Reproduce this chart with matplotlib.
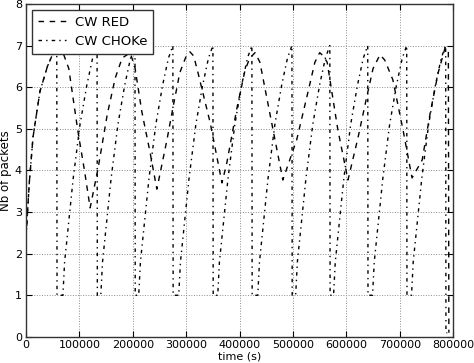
import matplotlib.pyplot as plt

# CW RED (time in s, window in packets)
red_t = [0, 6000, 13000, 26000, 40000, 50000, 60000, 70000,
         80000, 97000, 110000, 120000,
         135000, 152000, 167000, 180000, 195000,
         204000, 217000, 232000, 245000,
         264000, 275000, 288000, 300000, 307000, 314000,
         322000, 345000, 367000,
         376000, 395000, 410000, 419000, 429000,
         438000, 460000, 481000,
         507000, 526000, 541000, 550000, 557000,
         564000, 584000, 603000,
         622000, 637000, 650000, 663000, 672000,
         687000, 706000, 723000,
         742000, 757000, 772000, 785000, 791000, 792000]
red_v = [2.4, 3.7, 4.8, 5.9, 6.5, 6.8, 6.9, 6.8,
         6.45, 4.95, 3.95, 3.1,
         4.06, 5.34, 6.22, 6.7, 6.83,
         6.47, 5.4, 4.45, 3.55,
         4.74, 5.5, 6.35, 6.75, 6.85, 6.75,
         6.35, 5.14, 3.7,
         4.18, 5.5, 6.4, 6.7, 6.83,
         6.6, 5.15, 3.77,
         4.74, 5.77, 6.6, 6.83, 6.75,
         6.6, 4.98, 3.77,
         4.8, 5.7, 6.45, 6.78, 6.65,
         6.18, 4.98, 3.82,
         4.25, 5.38, 6.35, 6.95, 6.9, 0.1]

# CW CHOKe
choke_t = [0, 6000, 13000, 26000, 40000, 50000, 57500, 58000, 69000,
           72200, 78600, 88200, 101000, 113800, 124700, 133000, 133500, 140000,
           143200, 149600, 159200, 172000, 184800, 195700, 204000, 204500, 211000,
           214200, 220600, 230200, 243000, 255800, 266700, 275000, 275500, 286000,
           289200, 295600, 305200, 318000, 330800, 341700, 350000, 350500, 359000,
           362200, 368600, 378200, 391000, 403800, 414700, 423000, 423500, 434000,
           437200, 443600, 453200, 466000, 478800, 489700, 498000, 498500, 505000,
           508200, 514600, 524200, 537000, 549800, 560700, 569000, 569500, 576000,
           579200, 585600, 595200, 608000, 620800, 631700, 640000, 640500, 649000,
           652200, 658600, 668200, 681000, 693800, 704700, 713000, 713500, 722000,
           725200, 731600, 741200, 754000, 766800, 777700, 786000, 786500, 789000]
choke_v = [2.4, 3.7, 4.8, 5.9, 6.5, 6.8, 7.0, 1.0, 1.0,
           1.8, 2.6, 3.8, 5.1, 6.05, 6.7, 7.0, 1.0, 1.0,
           1.8, 2.6, 3.8, 5.1, 6.05, 6.7, 7.0, 1.0, 1.0,
           1.8, 2.6, 3.8, 5.1, 6.05, 6.7, 7.0, 1.0, 1.0,
           1.8, 2.6, 3.8, 5.1, 6.05, 6.7, 7.0, 1.0, 1.0,
           1.8, 2.6, 3.8, 5.1, 6.05, 6.7, 7.0, 1.0, 1.0,
           1.8, 2.6, 3.8, 5.1, 6.05, 6.7, 7.0, 1.0, 1.0,
           1.8, 2.6, 3.8, 5.1, 6.05, 6.7, 7.0, 1.0, 1.0,
           1.8, 2.6, 3.8, 5.1, 6.05, 6.7, 7.0, 1.0, 1.0,
           1.8, 2.6, 3.8, 5.1, 6.05, 6.7, 7.0, 1.0, 1.0,
           1.8, 2.6, 3.8, 5.1, 6.05, 6.7, 7.0, 0.1, 0.1]

x_ticks = [0, 100000, 200000, 300000, 400000, 500000, 600000, 700000, 800000]
y_ticks = [0, 1, 2, 3, 4, 5, 6, 7, 8]

fig = plt.figure(figsize=(4.74, 3.63), dpi=100)
ax = fig.add_axes([0.055, 0.072, 0.901, 0.917])

ax.plot(red_t, red_v, color='k', lw=1, dashes=(4, 4), label='CW RED')
ax.plot(choke_t, choke_v, color='k', lw=1, dashes=(2.5, 3, 1, 3), label='CW CHOKe')

ax.set_xlim(0, 800000)
ax.set_ylim(0, 8)
ax.set_xticks(x_ticks)
ax.set_yticks(y_ticks)
ax.set_xticklabels([str(v) for v in x_ticks])
ax.grid(True, color='0.55', linestyle=':', linewidth=0.7)

ax.tick_params(axis='both', which='major', direction='in', length=4, width=0.8,
               top=True, right=True, labelsize=8, colors='black')
ax.tick_params(axis='x', pad=2.5)
ax.tick_params(axis='y', pad=3)
for s in ax.spines.values():
    s.set_linewidth(1.0)
    s.set_color('0.2')

ax.set_xlabel('time (s)', fontsize=8)
ax.set_ylabel('Nb of packets', fontsize=8.5)
ax.xaxis.set_label_coords(0.5, -0.043)
ax.yaxis.set_label_coords(-0.033, 0.5)

leg = ax.legend(loc='upper left', bbox_to_anchor=(0.014, 0.982), borderaxespad=0,
                fontsize=9.5, fancybox=False, framealpha=1, edgecolor='0.2',
                handlelength=2.1, handletextpad=0.7, labelspacing=0.45, borderpad=0.45)
leg.get_frame().set_linewidth(1.0)

plt.savefig('out.png', dpi=100)
